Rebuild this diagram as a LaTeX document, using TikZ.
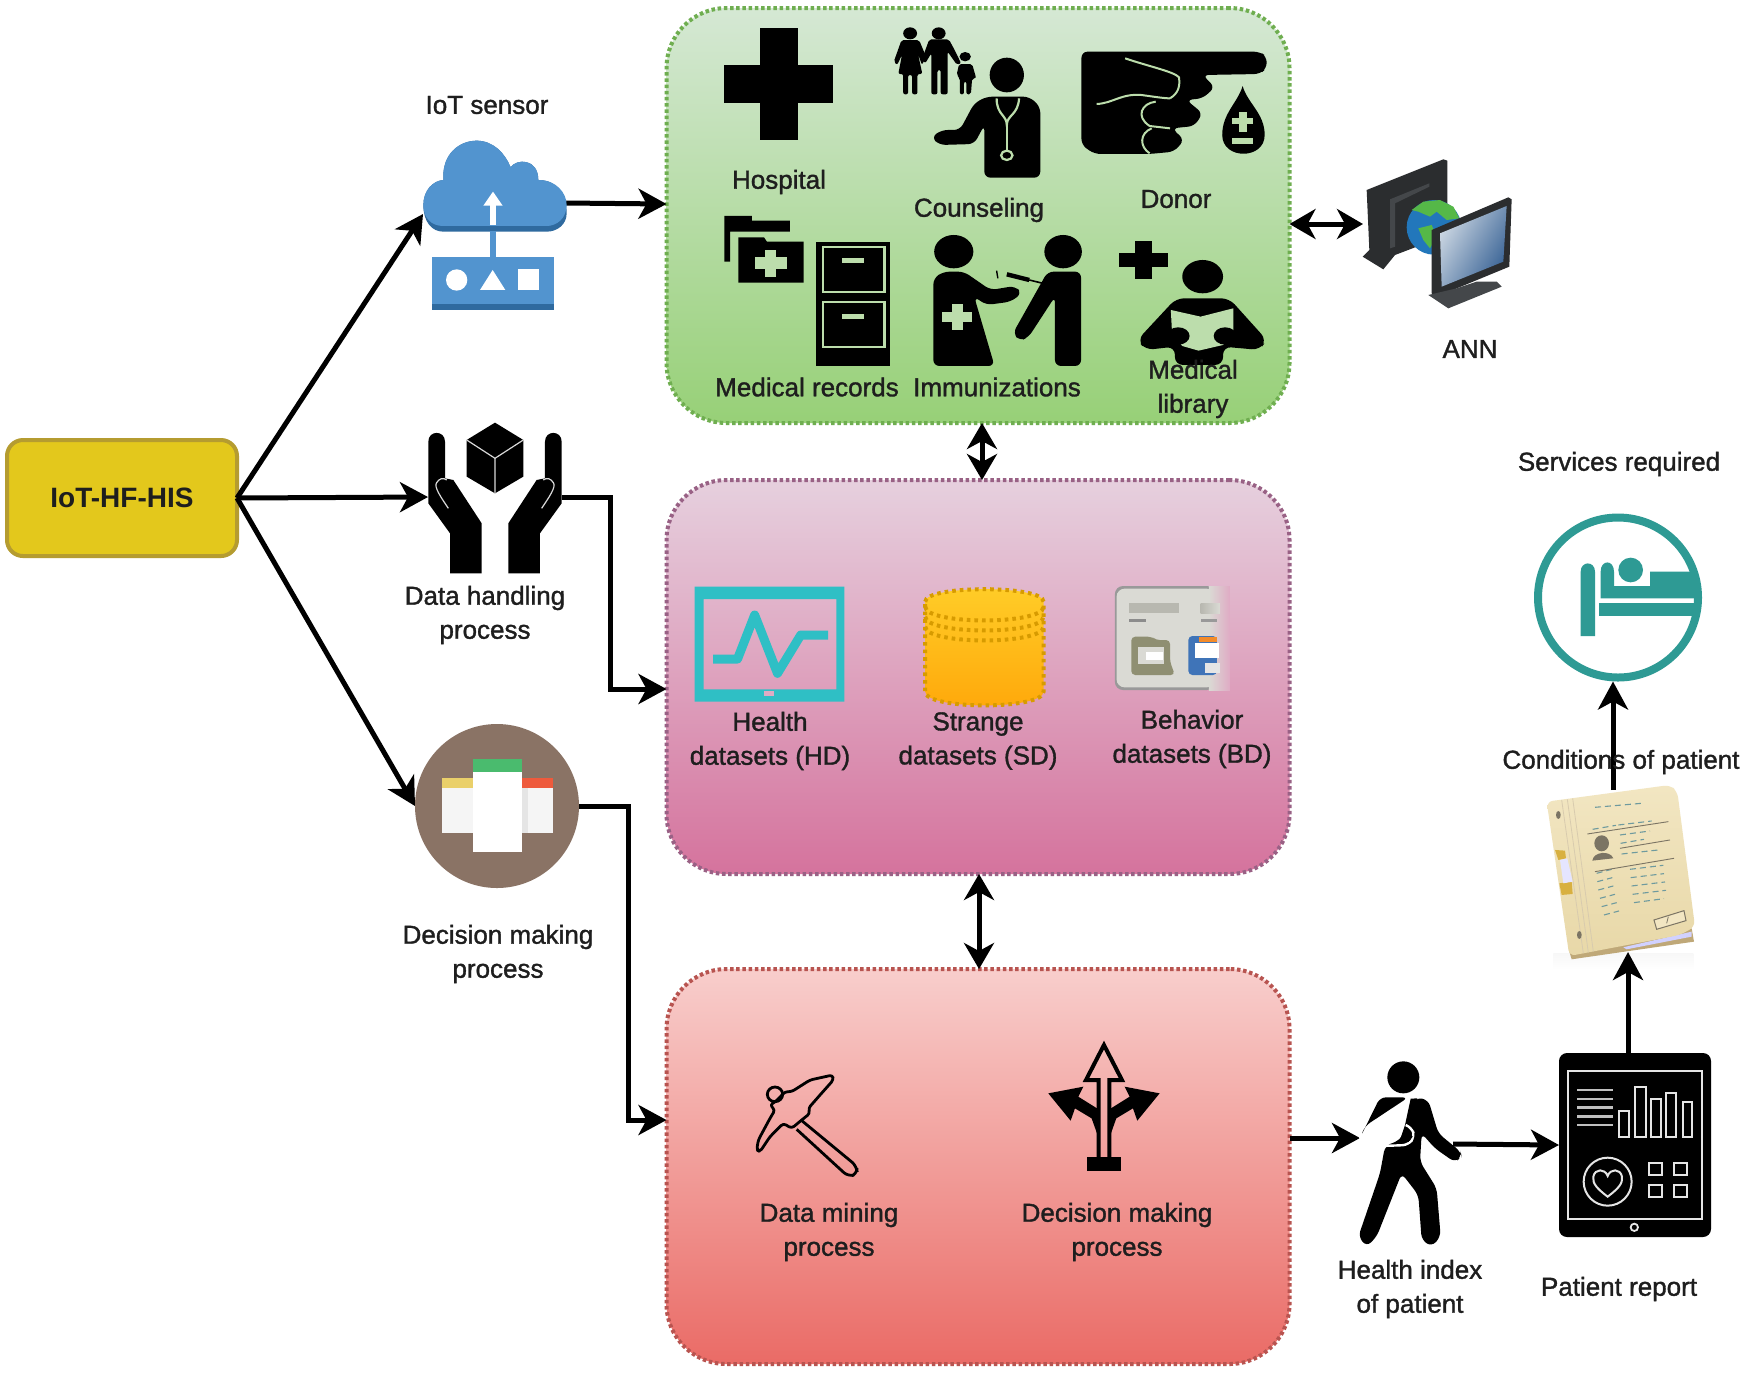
\documentclass[tikz,border=0pt]{standalone}
\usepackage{fontspec}
\setmainfont{Liberation Sans}[RawFeature={embolden=1.3}]
\newfontfamily\boldlab{Liberation Sans Bold}
\usetikzlibrary{arrows.meta,calc}
\definecolor{ink}{HTML}{1E1E1E}
\definecolor{glite}{HTML}{BCDDAC}
\definecolor{rlite}{HTML}{F3B0AE}
\definecolor{tealB}{HTML}{2E9A94}
\definecolor{tealM}{HTML}{2FBFC5}
\definecolor{cloudB}{HTML}{5294CF}
\definecolor{cloudD}{HTML}{2F6A9F}
\definecolor{gTop}{HTML}{D5E8D4}
\definecolor{gBot}{HTML}{97D077}
\definecolor{gLine}{HTML}{6FAE50}
\definecolor{pTop}{HTML}{E6D0DE}
\definecolor{pBot}{HTML}{D5739D}
\definecolor{pLine}{HTML}{996185}
\definecolor{rTop}{HTML}{F8CECC}
\definecolor{rBot}{HTML}{EA6B66}
\definecolor{rLine}{HTML}{B85450}
\definecolor{pMid}{HTML}{DFABC4}
\definecolor{yFill}{HTML}{E3C81C}
\definecolor{yLine}{HTML}{B59C30}
\definecolor{brownC}{HTML}{8A7365}
\definecolor{cylTop}{HTML}{FFCD28}
\definecolor{cylBot}{HTML}{FFA80A}
\definecolor{cylLine}{HTML}{D79B00}
\definecolor{panelG}{HTML}{DADAD4}
\definecolor{barG}{HTML}{B8B8B0}
\definecolor{oliveG}{HTML}{8F8F72}
\definecolor{diskB}{HTML}{3F74B8}
\definecolor{docA}{HTML}{F2E6C2}
\definecolor{docB}{HTML}{E8D8A8}
\definecolor{docTan}{HTML}{BFA878}
\definecolor{docGold}{HTML}{D8B040}
\definecolor{docLine}{HTML}{6E9A9E}
\definecolor{docGray}{HTML}{7B7464}
\definecolor{iconY}{HTML}{EAD06A}
\definecolor{iconR}{HTML}{EE5A3C}
\definecolor{iconG}{HTML}{4ABB6E}
\definecolor{monA}{HTML}{2B2D2F}
\definecolor{monB}{HTML}{44474A}
\definecolor{scrA}{HTML}{CBD6E2}
\definecolor{scrB}{HTML}{3A6496}
\definecolor{globeB}{HTML}{2277BB}
\definecolor{globeG}{HTML}{55B848}
\tikzset{
  lab/.style={font=\fontsize{13pt}{17pt}\selectfont,text=ink,align=center,inner sep=0pt,outer sep=0pt},
  panel/.style={rectangle,rounded corners=30pt,outer sep=0pt,line width=2pt,dash pattern=on 1.75pt off 1.35pt},
  hit/.style={rectangle,inner sep=0pt,outer sep=0pt},
  conn/.style={line width=2.5pt,black,-{Stealth[length=14pt,width=15pt,inset=4pt]}},
  dconn/.style={line width=2.5pt,black,{Stealth[length=13pt,width=15pt,inset=4pt]}-{Stealth[length=13pt,width=15pt,inset=4pt]}},
  zA/.style={shift={(660,0)},xscale=0.408,yscale=0.3333},
  zB/.style={shift={(660,560)},xscale=0.408,yscale=0.3333},
  zC/.style={shift={(#1)},xscale=0.3333,yscale=0.3333},
}
\begin{document}
\begin{tikzpicture}[x=0.5pt,y=-0.5pt]
\useasboundingbox (0,0) rectangle (1750,1373);
\fill[white] (0,0) rectangle (1750,1373);
% ---------- panels
\node[panel,draw=gLine,top color=gTop,bottom color=gBot,minimum width=311.5pt,minimum height=207.5pt] (green) at (978,215.5) {};
\node[panel,draw=pLine,top color=pTop,bottom color=pBot,minimum width=311.5pt,minimum height=197pt] (pink) at (978,677) {};
\node[panel,draw=rLine,top color=rTop,bottom color=rBot,minimum width=311.5pt,minimum height=197.5pt] (red) at (978,1166.5) {};
\node[rectangle,rounded corners=8pt,fill=yFill,draw=yLine,line width=2pt,minimum width=115pt,minimum height=58pt,outer sep=0pt,
  font=\boldlab\fontsize{14pt}{17pt}\selectfont,text=ink] (yellowbox) at (122,498) {IoT-HF-HIS};
% ---------- invisible icon frames for the connectors
\node[hit,minimum width=71.5pt,minimum height=70pt] (cloud) at (494.5,214) {};
\node[hit,minimum width=67pt,minimum height=75pt] (hands) at (495,497) {};
\node[circle,fill=brownC,minimum size=82pt,inner sep=0pt,outer sep=0pt] (brown) at (497,806) {};
\node[hit,minimum width=76pt,minimum height=60pt] (monitors) at (1439,224) {};
\node[hit,minimum width=46.5pt,minimum height=90pt] (person) at (1406.5,1144) {};
\node[rectangle,rounded corners=4pt,fill=black,minimum width=76pt,minimum height=92pt,outer sep=0pt] (tablet) at (1635,1145) {};
\node[hit,minimum width=80pt,minimum height=81pt] (folder) at (1628,871) {};
\node[circle,draw=tealB,line width=4pt,minimum size=80pt,inner sep=0pt,outer sep=2pt] (bed) at (1618,597.5) {};
% ---------- connectors
\draw[conn] (yellowbox.east) -- (cloud.west);
\draw[conn] (yellowbox.east) -- (hands.west);
\draw[conn] (yellowbox.east) -- (brown.west);
\draw[conn] ([yshift=5.5pt]cloud.east) -- ([yshift=5.75pt]green.west);
\draw[conn] (hands.east) -- ++(48,0) |- ([yshift=-6pt]pink.west);
\draw[conn] (brown.east) -- ++(49,0) |- ([yshift=23.25pt]red.west);
\draw[dconn] ([yshift=-4.25pt]green.east) -- (monitors.west);
\draw[dconn] ([xshift=2pt]green.south) -- ([xshift=2pt]pink.north);
\draw[dconn] ([xshift=.5pt]pink.south) -- ([xshift=.5pt]red.north);
\draw[conn] ([yshift=14.25pt]red.east) -- ([yshift=3pt]person.west);
\draw[conn] (person.east) -- (tablet.west);
\draw[conn] ([xshift=-7.5pt]folder.north) -- ([xshift=-2.5pt]bed.south);

% ---------- GREEN PANEL ICONS
\begin{scope}[zA]
  % hospital cross
  \fill[black] (245,83) rectangle (338,420);
  \fill[black] (158,195) rectangle (425,310);
  % family
  \fill[black] (613,100) ellipse [x radius=17,y radius=18];
  \fill[black] (683,100) ellipse [x radius=17,y radius=18];
  \fill[black] (748,170) ellipse [x radius=14,y radius=14];
  \fill[black,rounded corners=1pt] (592,120)--(635,120)--(652,170)--(642,195)--(632,160)--(643,222)--(631,222)--(631,283)--(618,283)--(618,225)--(608,225)--(608,283)--(596,283)--(596,222)--(584,222)--(593,165)--(581,195)--(573,185)--cycle;
  \fill[black,rounded corners=1pt] (660,118)--(708,118)--(722,150)--(738,190)--(728,195)--(705,155)--(705,283)--(688,283)--(688,210)--(680,210)--(680,283)--(665,283)--(665,160)--(650,190)--(642,178)--cycle;
  \fill[black,rounded corners=1pt] (733,192)--(765,192)--(775,235)--(765,235)--(762,283)--(751,283)--(751,245)--(745,245)--(745,283)--(735,283)--(735,235)--(727,225)--cycle;
  % doctor
  \fill[black] (850,225) ellipse [x radius=42,y radius=52];
  \fill[black,rounded corners=3pt] (690,390)--(735,390)--(770,310)--(800,290)--(905,290)--(932,320)--(932,533)--(795,533)--(795,375)--(770,432)--(685,435)--(665,412)--cycle;
  \draw[glite,line width=1.1pt] (825,295) .. controls (825,345) and (850,345) .. (850,375) .. controls (850,345) and (878,345) .. (880,295);
  \draw[glite,line width=1.1pt] (850,370) -- (850,452);
  \draw[glite,line width=1.1pt] (850,466) ellipse [x radius=14,y radius=14];
  % donor hand
  \fill[black,rounded corners=3pt] (1033,155)--(1470,155)--(1487,170)--(1487,205)--(1470,222)--(1330,225)--(1360,262)--(1330,295)--(1290,300)--(1330,340)--(1310,378)--(1255,385)--(1285,420)--(1260,455)--(1200,462)--(1065,462)--(1033,435)--cycle;
  \draw[glite,line width=1pt] (1140,175) .. controls (1200,200) and (1260,215) .. (1272,232) .. controls (1275,260) and (1270,280) .. (1250,295);
  \draw[glite,line width=1pt] (1070,312) .. controls (1110,310) and (1130,280) .. (1180,285) .. controls (1210,290) and (1235,295) .. (1250,295);
  \draw[glite,line width=1pt] (1215,305) .. controls (1180,310) and (1165,350) .. (1200,378) -- (1250,385);
  \draw[glite,line width=1pt] (1205,385) .. controls (1175,400) and (1175,440) .. (1200,460);
  \fill[black] (1428,258) .. controls (1415,310) and (1378,340) .. (1378,405) .. controls (1378,480) and (1482,480) .. (1482,405) .. controls (1482,340) and (1440,310) .. (1428,258) -- cycle;
  \fill[glite] (1418,335) rectangle (1438,395);
  \fill[glite] (1402,355) rectangle (1454,373);
  \fill[glite] (1402,415) rectangle (1454,432);
  % medical records
  \fill[black] (158,648)--(225,648)--(225,662)--(318,662)--(318,695)--(172,695)--(172,785)--(158,785)--cycle;
  \fill[black] (192,712)--(255,712)--(262,725)--(352,725)--(352,848)--(192,848)--cycle;
  \fill[glite] (258,750) rectangle (285,830);
  \fill[glite] (232,772) rectangle (312,806);
  \fill[black] (382,725) rectangle (563,1098);
  \draw[glite,line width=1.1pt] (400,740) rectangle (550,875);
  \draw[glite,line width=1.1pt] (400,905) rectangle (550,1040);
  \fill[glite] (445,775) rectangle (500,790);
  \fill[glite] (445,942) rectangle (500,957);
  % immunizations
  \fill[black] (720,755) ellipse [x radius=48,y radius=50];
  \fill[black,rounded corners=3pt] (670,835)--(695,815)--(745,815)--(810,870)--(870,858)--(887,880)--(860,905)--(800,915)--(770,890)--(820,1098)--(670,1098)--cycle;
  \fill[glite] (715,912) rectangle (742,990);
  \fill[glite] (692,935) rectangle (765,965);
  \fill[black] (988,755) ellipse [x radius=46,y radius=50];
  \fill[black,rounded corners=3pt] (1032,815)--(950,815)--(865,1000)--(882,1023)--(903,1012)--(968,890)--(968,1098)--(1032,1098)--cycle;
  \draw[black,line width=2.2pt] (850,823)--(905,840);
  \draw[black,line width=.8pt] (905,840)--(945,852);
  \draw[black,line width=.7pt] (825,812)--(828,835);
  % medical library
  \fill[black] (1165,722) rectangle (1205,838);
  \fill[black] (1125,760) rectangle (1245,800);
  \fill[black] (1330,830) ellipse [x radius=50,y radius=50];
  \fill[black,rounded corners=4pt] (1265,895)--(1395,895)--(1487,1020)--(1470,1050)--(1380,1040)--(1380,1095)--(1262,1095)--(1262,1040)--(1190,1050)--(1170,1020)--cycle;
  \fill[glite] (1252,930)--(1325,950)--(1405,925)--(1405,1000)--(1380,1035)--(1320,1052)--(1280,1038)--(1255,1000)--cycle;
  \fill[black] (1270,1008) ellipse [x radius=28,y radius=26];
  \fill[black] (1385,1008) ellipse [x radius=28,y radius=26];
\end{scope}

% ---------- PINK PANEL ICONS
\begin{scope}[zB]
  % monitor
  \fill[tealM,even odd rule] (85,80) rectangle (452,425) (107,117) rectangle (432,388);
  \draw[tealM,line width=4.5pt,line join=round] (130,297)--(190,297)--(232,165)--(288,340)--(345,225)--(412,225);
  \fill[pMid] (255,393) rectangle (280,408);
  % cylinder
  \shade[top color=cylTop,bottom color=cylBot] (650,125) .. controls (650,75) and (940,75) .. (940,125) -- (940,395) .. controls (940,450) and (650,450) .. (650,395) -- cycle;
  \draw[cylLine,line width=2pt,dash pattern=on 1.8pt off 2pt] (650,125) .. controls (650,75) and (940,75) .. (940,125) -- (940,395) .. controls (940,450) and (650,450) .. (650,395) -- cycle;
  \foreach \d in {0,30,60}{
    \draw[cylLine,line width=2pt,dash pattern=on 1.8pt off 2pt] (650,140+\d) .. controls (650,195+\d) and (940,195+\d) .. (940,140+\d);
  }
  % behaviour panel
  \fill[black!40,rounded corners=4pt] (1115,78) rectangle (1360,390);
  \fill[panelG,rounded corners=4pt] (1119,86) rectangle (1360,382);
  \shade[left color=panelG,right color=pMid] (1345,78) rectangle (1397,390);
  \fill[barG] (1150,130) rectangle (1272,160);
  \shade[left color=barG,right color=panelG] (1325,130) rectangle (1372,160);
  \fill[black!45] (1150,178) rectangle (1190,185);
  \fill[black!40] (1325,178) rectangle (1365,185);
  \fill[oliveG,rounded corners=2pt] (1155,230)--(1205,230)--(1215,240)--(1250,240)--(1250,305)--(1262,345)--(1155,345)--cycle;
  \fill[panelG] (1172,260) rectangle (1235,312);
  \fill[white] (1192,275) rectangle (1232,300);
  \fill[diskB,rounded corners=2pt] (1295,228) rectangle (1365,345);
  \fill[iconR!70!yellow] (1320,232) rectangle (1365,245);
  \fill[white] (1312,248) rectangle (1370,295);
  \fill[black!10] (1335,310) rectangle (1372,340);
\end{scope}

% ---------- RED PANEL ICONS
\begin{scope}[zC={720,1030}]
  % pick
  \draw[black,line width=1.4pt,rounded corners=1.5pt,line join=round] (110,360)--(115,330)--(150,265)--(165,240)--(150,225)--(170,212)--(195,185)--(215,185)--(270,150)--(338,135)--(340,150)--(300,195)--(265,235)--(270,250)--(245,270)--(215,295)--(190,280)--(150,320)--(120,365)--cycle;
  \draw[black,line width=1.4pt] (165,193) ellipse [x radius=23,y radius=22];
  \draw[black,line width=1.4pt,rounded corners=3pt] (243,270)--(410,408)--(412,432)--(385,440)--(230,298);
  % split arrows
  \fill[black] (1100,380) rectangle (1203,424);
  \draw[black,line width=2pt,line join=miter] (1136,385)--(1136,150)--(1098,150)--(1152,45)--(1206,150)--(1168,150)--(1168,385);
  \foreach \s/\o in {1/0,-1/2304}{
    \fill[black] (\o+\s*985,190)--(\o+\s*1090,170)--(\o+\s*1075,200)--(\o+\s*1131,235)--(\o+\s*1131,310)--(\o+\s*1115,265)--(\o+\s*1065,235)--(\o+\s*1052,272)--cycle;
  }
\end{scope}

% ---------- CLOUD
\begin{scope}[zC={400,90}]
  \fill[cloudD] (70,345) .. controls (70,300) and (100,272) .. (130,270) .. controls (125,190) and (180,152) .. (230,152) .. controls (280,152) and (315,190) .. (332,232) .. controls (350,205) and (415,205) .. (415,270) .. controls (470,270) and (500,310) .. (500,370) .. controls (500,405) and (470,425) .. (440,425) -- (130,425) .. controls (95,425) and (70,395) .. (70,345) -- cycle;
  \fill[cloudB] (70,345) .. controls (70,300) and (100,272) .. (130,270) .. controls (125,190) and (180,152) .. (230,152) .. controls (280,152) and (315,190) .. (332,232) .. controls (350,205) and (415,205) .. (415,270) .. controls (470,270) and (500,310) .. (500,345) .. controls (500,385) and (470,408) .. (440,408) -- (130,408) .. controls (95,408) and (70,385) .. (70,345) -- cycle;
  \fill[white] (271,345) rectangle (288,405);
  \fill[white] (250,347)--(279,305)--(308,347)--cycle;
  \fill[cloudB] (271,422) rectangle (288,500);
  \fill[cloudD] (95,500) rectangle (463,660);
  \fill[cloudB] (95,500) rectangle (463,642);
  \fill[white] (170,570) circle [radius=32];
  \fill[white] (240,600)--(278,540)--(316,600)--cycle;
  \fill[white] (355,537) rectangle (417,600);
\end{scope}

% ---------- HANDS
\begin{scope}[zC={400,90}]
  \fill[black] (285,998)--(370,1050)--(370,1160)--(285,1210)--(200,1160)--(200,1050)--cycle;
  \draw[white!85!black,line width=.6pt] (200,1050)--(285,1105)--(370,1050) (285,1105)--(285,1210);
  \foreach \m/\o in {1/0,-1/570}{
    \fill[black] (\o+\m*85,1055) .. controls (\o+\m*85,1020) and (\o+\m*135,1020) .. (\o+\m*135,1055) -- (\o+\m*135,1165) -- (\o+\m*160,1170) -- (\o+\m*245,1300) -- (\o+\m*245,1450) -- (\o+\m*150,1450) -- (\o+\m*150,1330) -- (\o+\m*85,1240) -- cycle;
    \draw[white!85!black,line width=.6pt] (\o+\m*145,1255) .. controls (\o+\m*125,1225) and (\o+\m*100,1190) .. (\o+\m*110,1178) .. controls (\o+\m*118,1165) and (\o+\m*130,1162) .. (\o+\m*140,1170);
  }
\end{scope}

% ---------- BROWN CIRCLE ICON
\begin{scope}[zC={390,700}]
  \fill[black!4] (155,265) rectangle (250,400);
  \fill[iconY] (155,235) rectangle (250,265);
  \fill[black!4] (397,265) rectangle (490,400);
  \fill[black!10] (397,265) rectangle (415,400);
  \fill[iconR] (397,235) rectangle (490,265);
  \fill[white] (248,215) rectangle (397,455);
  \fill[iconG] (248,178) rectangle (397,215);
\end{scope}

% ---------- MONITORS
\begin{scope}[zC={1340,140}]
  \fill[monA] (80,150)--(310,58)--(322,62)--(322,285)--(165,345)--(130,388)--(68,350)--(88,330)--cycle;
  \fill[monB] (150,178)--(268,130)--(268,140)--(165,190)--(165,320)--(150,325)--cycle;
  \fill[globeB] (282,262) ellipse [x radius=82,y radius=82];
  \fill[globeG] (215,210)--(250,185)--(300,180)--(340,200)--(358,235)--(320,240)--(290,215)--(270,230)--(235,215)--cycle;
  \fill[globeG] (235,265)--(275,255)--(290,290)--(270,325)--(250,300)--cycle;
  \fill[monA] (275,270)--(505,172)--(515,178)--(508,380)--(285,472)--(275,460)--cycle;
  \shade[left color=scrA,right color=scrB,shading angle=60] (300,280)--(500,198)--(490,365)--(305,440)--cycle;
  \fill[monB] (350,445)--(410,425)--(470,425)--(485,440)--(325,505)--(265,465)--cycle;
\end{scope}

% ---------- PERSON
\begin{scope}[zC={1340,1040}]
  \fill[black] (190,112) circle [radius=48];
  \fill[black,rounded corners=3pt] (228,172)--(265,180)--(295,280)--(362,335)--(365,350)--(345,367)--(285,325)--(245,280)--(240,365)--(290,445)--(302,590)--(275,620)--(245,600)--(235,465)--(185,400)--(110,590)--(80,620)--(55,590)--(120,400)--(135,318)--(180,300)--cycle;
  \fill[black,rounded corners=3pt] (120,172)--(205,172)--(75,258)--(62,290)--cycle;
  \fill[white,rounded corners=2pt] (208,176)--(226,174)--(195,250)--(180,300)--(75,315)--(62,290)--(82,260)--cycle;
  \fill[black] (212,176)--(232,175)--(205,245)--(180,300)--(195,255)--cycle;
  \draw[white,line width=1.2pt,rounded corners=3pt] (60,290)--(70,320)--(205,315)--(224,290)--(215,262)--(197,255);
  \fill[black] (190,300)--(200,268)--(218,290)--(205,306)--cycle;
\end{scope}

% ---------- TABLET
\begin{scope}[zC={1340,1040}]
  \draw[white!90!black,line width=1.1pt] (685,93) rectangle (1085,537);
  \foreach \y in {150,177,203,229,255}{ \draw[white!75!black,line width=1.3pt] (712,\y)--(818,\y); }
  \foreach \a/\b/\t in {838/866/212,885/917/140,932/962/178,978/1008/160,1028/1057/185}{
    \draw[white!90!black,line width=1pt] (\a,\t) rectangle (\b,290);
  }
  \draw[white!90!black,line width=1pt] (803,425) circle [radius=72];
  \draw[white!90!black,line width=1pt] (803,470) .. controls (770,445) and (757,430) .. (760,410) .. controls (765,385) and (795,385) .. (803,408) .. controls (811,385) and (841,385) .. (846,410) .. controls (849,430) and (836,445) .. (803,470) -- cycle;
  \foreach \a/\b in {928/368,1002/368,928/435,1002/435}{
    \draw[white!90!black,line width=1pt] (\a,\b) rectangle ++(38,37);
  }
  \draw[white!90!black,line width=.9pt] (883,562) circle [radius=11];
\end{scope}

% ---------- PATIENT FOLDER
\begin{scope}[zC={1480,490}]
  \shade[top color=black!3,bottom color=white] (220,1390) rectangle (640,1440);
  \fill[docTan] (268,1385)--(635,1315)--(642,1355)--(275,1408)--cycle;
  \fill[blue!18!white] (430,1372)--(635,1325)--(635,1340)--(440,1378)--cycle;
  \shade[top color=docA,bottom color=docB,rounded corners=3pt] (200,935)--(570,885)--(592,905)--(645,1310)--(600,1335)--(268,1398)--cycle;
  \draw[docTan!60!white,line width=.4pt] (245,930)--(310,1390) (262,928)--(325,1388) (278,925)--(340,1385);
  \fill[docGray] (235,975) ellipse [x radius=7,y radius=12];
  \fill[docGray] (298,1335) ellipse [x radius=7,y radius=12];
  \fill[docGold] (225,1080)--(255,1082)--(258,1105)--(235,1110)--cycle;
  \fill[docGold] (238,1180)--(275,1175)--(278,1212)--(245,1215)--cycle;
  \fill[white!90!blue] (240,1110)--(262,1105)--(278,1175)--(250,1180)--cycle;
  \fill[docGray] (365,1060) ellipse [x radius=22,y radius=24];
  \fill[docGray] (337,1112) .. controls (340,1085) and (390,1080) .. (400,1105) -- cycle;
  \foreach \x/\y/\w in {345/952/140,338/1018/70,415/1005/100,420/1035/90,422/1060/70,425/1092/110,350/1150/45,352/1175/45,355/1200/45,360/1225/45,365/1250/45,372/1275/45,450/1138/100,452/1163/100,455/1188/100,458/1213/100,462/1238/90}{
    \draw[docLine,line width=.55pt,densely dashed] (\x,\y)--++(\w,-12);
  }
  \draw[docGray,line width=.45pt] (322,1032)--(565,995) (345,1145)--(582,1105) (420,1075)--(570,1050);
  \draw[docGray,line width=.5pt,fill=docA] (522,1290)--(612,1262)--(618,1292)--(530,1318)--cycle;
  \draw[docGray,line width=.4pt] (565,1280)--(560,1300);
\end{scope}
\draw[conn] ([xshift=-3.5pt]tablet.north) -- (folder.south);

% ---------- BED ICON
\begin{scope}[zC={1480,490}]
  \begin{scope}
    \clip (415,320) ellipse [x radius=232,y radius=232];
    \fill[tealB] (302,245) .. controls (302,212) and (345,212) .. (345,245) -- (345,438) -- (302,438) -- cycle;
    \fill[tealB] (362,245) .. controls (362,208) and (402,208) .. (402,245) -- (402,288) -- (510,288) -- (510,245) -- (650,245) -- (650,325) -- (362,325) -- cycle;
    \fill[tealB] (358,340) rectangle (650,378);
    \fill[tealB] (452,240) circle [radius=37];
  \end{scope}
\end{scope}

% ---------- LABELS
\node[lab] (lHospital) at (779,182) {Hospital};
\node[lab] (lCounsel) at (979,210) {Counseling};
\node[lab] (lDonor) at (1176,199) {Donor};
\node[lab] (lRecords) at (807,387) {Medical records};
\node[lab] (lImmun) at (997,387) {Immunizations};
\node[lab] (lLibrary) at (1193,389) {Medical\\library};
\node[lab] (lIot) at (487,105) {IoT sensor};
\node[lab] (lHandle) at (485,615) {Data handling\\process};
\node[lab] (lDecide) at (498,954) {Decision making\\process};
\node[lab] (lAnn) at (1470,349) {ANN};
\node[lab] (lServices) at (1619,464) {Services required};
\node[lab] (lCond) at (1621,762) {Conditions of patient};
\node[lab] (lIndex) at (1410,1289) {Health index\\of patient};
\node[lab] (lReport) at (1619,1289) {Patient report};
\node[lab] (lHD) at (770,741) {Health\\datasets (HD)};
\node[lab] (lSD) at (978,741) {Strange\\datasets (SD)};
\node[lab] (lBD) at (1192,739) {Behavior\\datasets (BD)};
\node[lab] (lMining) at (829,1232) {Data mining\\process};
\node[lab] (lDecide2) at (1117,1232) {Decision making\\process};
\end{tikzpicture}
\end{document}
